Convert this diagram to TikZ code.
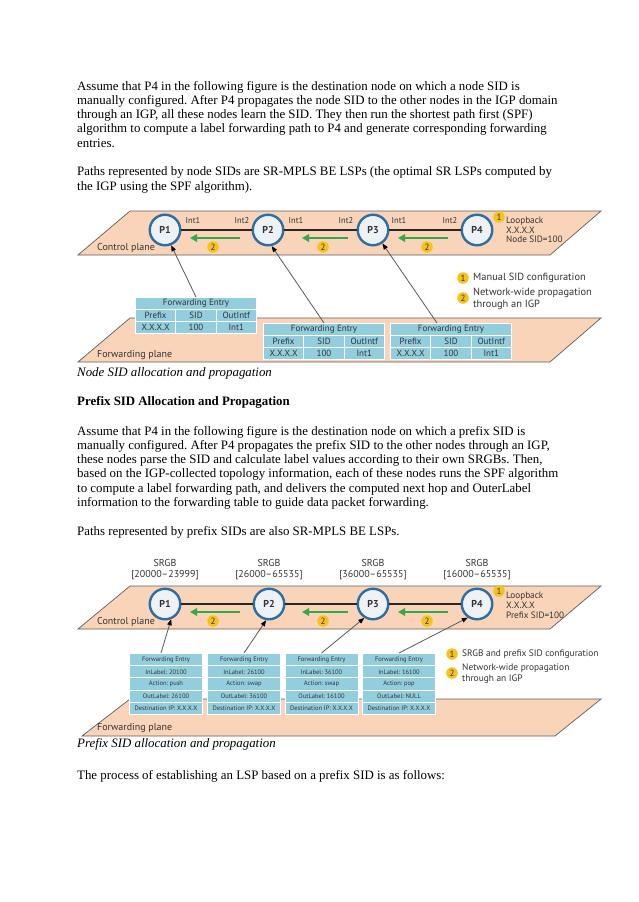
\documentclass[tikz,border=0pt]{standalone}
\usepackage{fontspec}
\setmainfont{Liberation Serif}
\newfontfamily\dsans{PT Sans}
\usetikzlibrary{arrows.meta}
\definecolor{plane}{HTML}{F9D4B8}
\definecolor{planeline}{HTML}{5E5E5E}
\definecolor{cellc}{HTML}{93CEDF}
\definecolor{nodefill}{HTML}{EEF2F6}
\definecolor{nodeline}{HTML}{2C6DA4}
\definecolor{grn}{HTML}{35A84A}
\definecolor{ylw}{HTML}{F6C21C}
\definecolor{dtxt}{HTML}{333333}
\newcommand\bodysize{\fontsize{12.87}{14}\selectfont}
\newcommand\fwdtab[3]{%
  \node[cellbox, minimum width=121pt] (#1h) at (#2,#3) {Forwarding Entry};
  \node[cellbox, minimum width=40.33pt] (#1a) at (#2,#3+12) {Prefix};
  \node[cellbox, minimum width=40.33pt] (#1b) at (#2+40.33,#3+12) {SID};
  \node[cellbox, minimum width=40.33pt] (#1c) at (#2+80.67,#3+12) {OutIntf};
  \node[cellbox, minimum width=40.33pt] (#1d) at (#2,#3+24) {X.X.X.X};
  \node[cellbox, minimum width=40.33pt] (#1e) at (#2+40.33,#3+24) {100};
  \node[cellbox, minimum width=40.33pt] (#1f) at (#2+80.67,#3+24) {Int1};
}
\newcommand\lbltab[7]{%
  \node[cellsm] (#1h) at (#2,#3) {Forwarding Entry};
  \node[cellsm] (#1a) at (#2,#3+12.2) {#4};
  \node[cellsm] (#1b) at (#2,#3+24.4) {#5};
  \node[cellsm] (#1c) at (#2,#3+36.6) {#6};
  \node[cellsm] (#1d) at (#2,#3+48.8) {#7};
}
\frenchspacing
\begin{document}
\begin{tikzpicture}[x=1pt,y=-1pt,
  txt/.style={anchor=base west, inner sep=0pt, font=\bodysize},
  planeshape/.style={fill=plane, draw=planeline, line width=0.7pt},
  rnode/.style={circle, fill=nodefill, draw=nodeline, line width=2.4pt, minimum size=30.5pt, inner sep=0pt, font=\dsans\bfseries\fontsize{10}{12}\selectfont, text=dtxt},
  link/.style={draw=black!85, line width=1.4pt},
  prop/.style={draw=grn, line width=2.2pt, -{Triangle[length=7pt,width=7.5pt]}},
  badge/.style={circle, fill=ylw, inner sep=0pt, minimum size=11.5pt, font=\dsans\fontsize{9}{9}\selectfont, text=dtxt},
  lbl/.style={font=\dsans\fontsize{10}{11}\selectfont, text=dtxt, inner sep=0pt},
  intl/.style={font=\dsans\fontsize{8.5}{9}\selectfont, text=dtxt, inner sep=0pt},
  leg/.style={font=\dsans\fontsize{10.4}{11}\selectfont, text=dtxt, inner sep=0pt, anchor=west},
  cellbox/.style={rectangle, fill=cellc, draw=white, line width=1pt, anchor=north west, inner sep=0pt, minimum height=12pt, font=\dsans\fontsize{9}{9}\selectfont, text=dtxt},
  cellsm/.style={rectangle, fill=cellc, draw=white, line width=1pt, anchor=north west, inner sep=0pt, minimum height=12.2pt, minimum width=73pt, font=\dsans\fontsize{6.5}{7}\selectfont, text=dtxt},
  pointer/.style={draw=black!65, line width=0.8pt, -{Triangle[length=6pt,width=4.5pt,color=black]}},
]
\useasboundingbox (0,0) rectangle (638,902);
\fill[white] (0,0) rectangle (638,902);

% ---------------- text ----------------
\node[txt] (a1) at (77,90) {Assume that P4 in the following figure is the destination node on which a node SID is};
\node[txt] (a2) at (77,104.3) {manually configured. After P4 propagates the node SID to the other nodes in the IGP domain};
\node[txt] (a3) at (77,118.6) {through an IGP, all these nodes learn the SID. They then run the shortest path first (SPF)};
\node[txt] (a4) at (77,132.9) {algorithm to compute a label forwarding path to P4 and generate corresponding forwarding};
\node[txt] (a5) at (77,147.2) {entries.};
\node[txt] (a6) at (77,175.8) {Paths represented by node SIDs are SR-MPLS BE LSPs (the optimal SR LSPs computed by};
\node[txt] (a7) at (77,190.1) {the IGP using the SPF algorithm).};

\node[txt, font=\bodysize\itshape] (cap1) at (77,376) {Node SID allocation and propagation};
\node[txt, font=\bodysize\bfseries] (head) at (77,405) {Prefix SID Allocation and Propagation};

\node[txt] (b1) at (77,435) {Assume that P4 in the following figure is the destination node on which a prefix SID is};
\node[txt] (b2) at (77,449.3) {manually configured. After P4 propagates the prefix SID to the other nodes through an IGP,};
\node[txt] (b3) at (77,463.6) {these nodes parse the SID and calculate label values according to their own SRGBs. Then,};
\node[txt] (b4) at (77,477.9) {based on the IGP-collected topology information, each of these nodes runs the SPF algorithm};
\node[txt] (b5) at (77,492.2) {to compute a label forwarding path, and delivers the computed next hop and OuterLabel};
\node[txt] (b6) at (77,506.5) {information to the forwarding table to guide data packet forwarding.};
\node[txt] (b7) at (77,535.1) {Paths represented by prefix SIDs are also SR-MPLS BE LSPs.};

\node[txt, font=\bodysize\itshape] (cap2) at (77,747) {Prefix SID allocation and propagation};
\node[txt] (c1) at (77,779) {The process of establishing an LSP based on a prefix SID is as follows:};

% ---------------- diagram 1 ----------------
\draw[planeshape] (130,211) -- (601,211) -- (550,255) -- (78,255) -- cycle;
\draw[planeshape] (130,318) -- (601,318) -- (550,362) -- (78,362) -- cycle;
\node[lbl, anchor=west] (cp1) at (97,248) {Control plane};
\node[lbl, anchor=west] (fp1) at (97,355) {Forwarding plane};

\node[rnode] (P1) at (165,230) {P1};
\node[rnode] (P2) at (268,230) {P2};
\node[rnode] (P3) at (373,230) {P3};
\node[rnode] (P4) at (477,230) {P4};
\draw[link] (P1) -- (P2);
\draw[link] (P2) -- (P3);
\draw[link] (P3) -- (P4);

\node[intl] (i1) at (193,221) {Int1};
\node[intl] (i2) at (242,221) {Int2};
\node[intl] (i3) at (296,221) {Int1};
\node[intl] (i4) at (346,221) {Int2};
\node[intl] (i5) at (399,221) {Int1};
\node[intl] (i6) at (450,221) {Int2};

\coordinate (g1s) at (240,238); \coordinate (g1e) at (190,238);
\coordinate (g2s) at (348,238); \coordinate (g2e) at (302,238);
\coordinate (g3s) at (448,238); \coordinate (g3e) at (398,238);
\draw[prop] (g1s) -- (g1e);
\draw[prop] (g2s) -- (g2e);
\draw[prop] (g3s) -- (g3e);
\node[badge] (n21) at (213,247) {2};
\node[badge] (n22) at (323,247) {2};
\node[badge] (n23) at (427,247) {2};

\node[badge] (n11) at (499,217) {1};
\node[lbl, anchor=west, font=\dsans\fontsize{9.2}{10}\selectfont] (lb1) at (506,221) {Loopback};
\node[lbl, anchor=west, font=\dsans\fontsize{9.2}{10}\selectfont] (lb2) at (506,230) {X.X.X.X};
\node[lbl, anchor=west, font=\dsans\fontsize{9.2}{10}\selectfont] (lb3) at (506,239) {Node SID=100};

\node[badge] (lg1) at (463,278) {1};
\node[leg] (lg1t) at (473,278) {Manual SID configuration};
\node[badge] (lg2) at (463,298) {2};
\node[leg] (lg2t) at (473,293) {Network-wide propagation};
\node[leg] (lg2u) at (473,305) {through an IGP};

\fwdtab{t1}{135}{297}
\fwdtab{t2}{263}{323}
\fwdtab{t3}{390}{323}

\draw[pointer] (t1h.north) -- (P1.-68);
\draw[pointer] (t2h.north) -- (P2.-77);
\draw[pointer] ([xshift=-14pt]t3h.north) -- (P3.-55);

% ---------------- diagram 2 ----------------
\draw[planeshape] (130,586) -- (601,586) -- (550,629) -- (78,629) -- cycle;
\draw[planeshape] (130,699) -- (601,699) -- (555,736) -- (82,736) -- cycle;
\node[lbl, anchor=west] (cp2) at (97,622) {Control plane};
\node[lbl, anchor=west] (fp2) at (97,728.5) {Forwarding plane};

\node[rnode] (Q1) at (165,604) {P1};
\node[rnode] (Q2) at (269,604) {P2};
\node[rnode] (Q3) at (373,604) {P3};
\node[rnode] (Q4) at (477,604) {P4};
\draw[link] (Q1) -- (Q2);
\draw[link] (Q2) -- (Q3);
\draw[link] (Q3) -- (Q4);

\node[lbl] (s1a) at (165,563) {SRGB};
\node[lbl] (s1b) at (165,575) {[20000–23999]};
\node[lbl] (s2a) at (269,563) {SRGB};
\node[lbl] (s2b) at (269,575) {[26000–65535]};
\node[lbl] (s3a) at (373,563) {SRGB};
\node[lbl] (s3b) at (373,575) {[36000–65535]};
\node[lbl] (s4a) at (477,563) {SRGB};
\node[lbl] (s4b) at (477,575) {[16000–65535]};

\coordinate (h1s) at (240,612); \coordinate (h1e) at (190,612);
\coordinate (h2s) at (348,612); \coordinate (h2e) at (302,612);
\coordinate (h3s) at (448,612); \coordinate (h3e) at (398,612);
\draw[prop] (h1s) -- (h1e);
\draw[prop] (h2s) -- (h2e);
\draw[prop] (h3s) -- (h3e);
\node[badge] (m21) at (213,621) {2};
\node[badge] (m22) at (323,621) {2};
\node[badge] (m23) at (427,621) {2};

\node[badge] (m11) at (499,591) {1};
\node[lbl, anchor=west, font=\dsans\fontsize{9.2}{10}\selectfont] (mb1) at (506,596) {Loopback};
\node[lbl, anchor=west, font=\dsans\fontsize{9.2}{10}\selectfont] (mb2) at (506,605) {X.X.X.X};
\node[lbl, anchor=west, font=\dsans\fontsize{9.2}{10}\selectfont] (mb3) at (506,615) {Prefix SID=100};

\node[badge] (mg1) at (452,654) {1};
\node[leg, font=\dsans\fontsize{9.4}{11}\selectfont] (mg1t) at (462,654) {SRGB and prefix SID configuration};
\node[badge] (mg2) at (452,673) {2};
\node[leg, font=\dsans\fontsize{9.4}{11}\selectfont] (mg2t) at (462,668) {Network-wide propagation};
\node[leg, font=\dsans\fontsize{9.4}{11}\selectfont] (mg2u) at (462,679) {through an IGP};

\lbltab{u1}{129}{653}{InLabel: 20100}{Action: push}{OutLabel: 26100}{Destination IP: X.X.X.X}
\lbltab{u2}{207}{653}{InLabel: 26100}{Action: swap}{OutLabel: 36100}{Destination IP: X.X.X.X}
\lbltab{u3}{284.5}{653}{InLabel: 36100}{Action: swap}{OutLabel: 16100}{Destination IP: X.X.X.X}
\lbltab{u4}{362}{653}{InLabel: 16100}{Action: pop}{OutLabel: NULL}{Destination IP: X.X.X.X}

\draw[pointer] ([xshift=-5pt]u1h.north) -- (Q1.-68);
\draw[pointer] (u2h.north) -- (Q2.-100);
\draw[pointer] (u3h.north) -- (Q3.-122);
\draw[pointer] (u4h.north) -- (Q4.-124);
\end{tikzpicture}
\end{document}
